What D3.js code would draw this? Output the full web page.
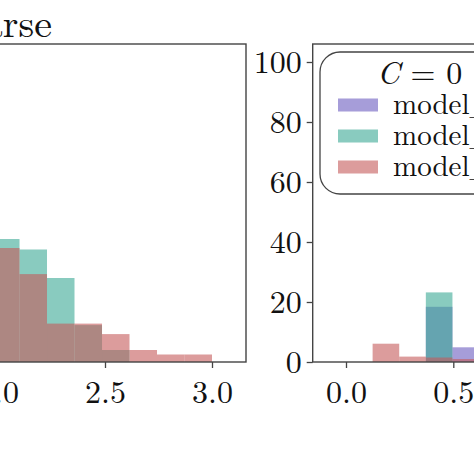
<!DOCTYPE html>
<html>
<head>
<meta charset="utf-8">
<script src="https://cdn.jsdelivr.net/npm/d3@7"></script>
<style>
  body { margin: 0; background: #fff; }
  svg { display: block; font-family: "Latin Modern Roman", "CMU Serif", "Liberation Serif", serif; }
</style>
</head>
<body>
<svg width="474" height="474"></svg>
<script>
const svg = d3.select('svg');

const seriesNames = ['model_1', 'model_11', 'model_2'];
const seriesColors = ['#6a5cc0', '#3aa895', '#c45a5a'];

// left panel (title cut off, ends in "...rse")
const leftEdges = [1.972, 2.1005, 2.229, 2.3575, 2.486, 2.6145, 2.743, 2.8715, 3.0];
const leftTeal = [41, 37.5, 28, 12.3, 4, 0, 0, 0];
const leftRed = [38, 29.3, 12.8, 12.8, 9.3, 4, 2.5, 2.5];
const leftTicks = [2.0, 2.5, 3.0];

// right panel, C = 0
const rightEdges = [0.124, 0.248, 0.372, 0.496, 0.62];
const rightPurple = [0, 0, 18.4, 4.9];
const rightTeal = [0, 0, 23.2, 0];
const rightRed = [6.1, 1.8, 1.5, 1];
const rightXTicks = [0.0, 0.5, 1.0];
const yTicks = [0, 20, 40, 60, 80, 100];

const plotTop = 44, plotBottom = 362;
const y = d3.scaleLinear().domain([0, 106]).range([plotBottom, plotTop]);
const xL = d3.scaleLinear().domain([2.0, 3.0]).range([-2, 212]);
const xR = d3.scaleLinear().domain([0.0, 0.5]).range([346, 453.3]);

const frameColor = '#444';

const bars = (g, x, edges, vals, color) => {
  g.selectAll(null)
    .data(vals.map((v, i) => ({ x0: edges[i], x1: edges[i + 1], v })).filter(d => d.v > 0))
    .enter().append('rect')
      .attr('x', d => x(d.x0))
      .attr('width', d => x(d.x1) - x(d.x0))
      .attr('y', d => y(d.v))
      .attr('height', d => y(0) - y(d.v))
      .attr('fill', color)
      .attr('fill-opacity', 0.6);
};

// tidy up a d3 axis so it looks like the matplotlib one
const styleAxis = (ax, textY) => {
  ax.attr('font-family', null).attr('font-size', null);
  ax.select('.domain').remove();
  ax.selectAll('line').attr('stroke', frameColor).attr('stroke-width', 1.3);
  const t = ax.selectAll('text').attr('font-size', 32).attr('fill', '#111');
  if (textY) t.attr('dy', null).attr('y', textY);
  else t.attr('dy', '0.34em');
};

// ---- left panel
const left = svg.append('g');
bars(left, xL, leftEdges, leftTeal, seriesColors[1]);
bars(left, xL, leftEdges, leftRed, seriesColors[2]);
left.append('rect')
  .attr('x', -10).attr('y', plotTop).attr('width', 246 + 10).attr('height', plotBottom - plotTop)
  .attr('fill', 'none').attr('stroke', frameColor).attr('stroke-width', 1.4);
const lax = left.append('g')
  .attr('transform', `translate(0,${plotBottom})`)
  .call(d3.axisBottom(xL).tickValues(leftTicks).tickFormat(d3.format('.1f')).tickSize(6).tickSizeOuter(0));
styleAxis(lax, 41);

left.append('text')
  .attr('x', 52).attr('y', 37)
  .attr('text-anchor', 'end')
  .attr('font-size', 40).attr('fill', '#111')
  .text('Coarse');

// ---- right panel
const right = svg.append('g');
bars(right, xR, rightEdges, rightPurple, seriesColors[0]);
bars(right, xR, rightEdges, rightTeal, seriesColors[1]);
bars(right, xR, rightEdges, rightRed, seriesColors[2]);
right.append('rect')
  .attr('x', 312.7).attr('y', plotTop).attr('width', 300).attr('height', plotBottom - plotTop)
  .attr('fill', 'none').attr('stroke', frameColor).attr('stroke-width', 1.4);

const rax = right.append('g')
  .attr('transform', `translate(0,${plotBottom})`)
  .call(d3.axisBottom(xR).tickValues(rightXTicks).tickFormat(d3.format('.1f')).tickSize(6).tickSizeOuter(0));
styleAxis(rax, 41);

const ray = right.append('g')
  .attr('transform', 'translate(312.7,0)')
  .call(d3.axisLeft(y).tickValues(yTicks).tickSize(6).tickPadding(5).tickSizeOuter(0));
styleAxis(ray, null);

// legend
const legend = svg.append('g');
legend.append('rect')
  .attr('x', 320).attr('y', 52).attr('width', 220).attr('height', 142)
  .attr('rx', 20).attr('ry', 20)
  .attr('fill', '#fff').attr('stroke', frameColor).attr('stroke-width', 1.3);

const ltitle = legend.append('text')
  .attr('x', 377).attr('y', 84)
  .attr('font-size', 32).attr('fill', '#111');
ltitle.append('tspan').attr('font-style', 'italic').text('C');
ltitle.append('tspan').text(' = 0');

const rows = legend.selectAll('g.row')
  .data(seriesNames)
  .enter().append('g')
    .attr('class', 'row')
    .attr('transform', (d, i) => `translate(0,${105 + i * 31})`);
rows.append('rect')
  .attr('x', 338).attr('y', -6.5).attr('width', 40).attr('height', 13)
  .attr('fill', (d, i) => seriesColors[i]).attr('fill-opacity', 0.6);
rows.append('text')
  .attr('x', 393).attr('y', 9)
  .attr('font-size', 29).attr('fill', '#111')
  .text(d => d);
</script>
</body>
</html>
